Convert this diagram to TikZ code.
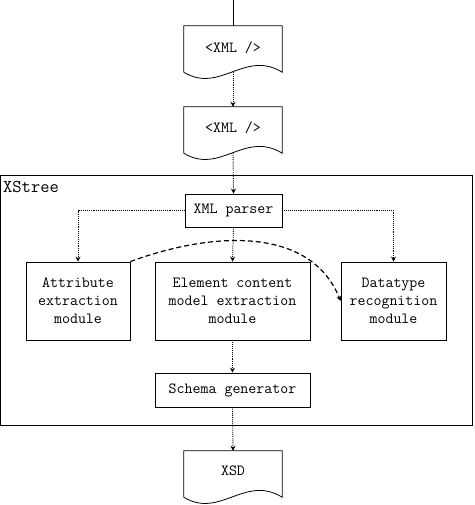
\documentclass[tikz,border=0pt]{standalone}
\usepackage{fontspec}
\usetikzlibrary{arrows.meta,calc}
\begin{document}
\begin{tikzpicture}[x=1pt,y=-1pt,
  every node/.style={font=\ttfamily\fontsize{15.5}{18}\selectfont, inner sep=0pt},
  box/.style={draw, line width=0.8pt, align=center},
  doc/.style={minimum width=98pt, minimum height=46pt},
  docline/.style={draw, line width=0.8pt},
  conn/.style={line width=0.9pt, densely dotted, -{Stealth[length=5pt,width=5pt]}},
  curvy/.style={line width=1.2pt, dash pattern=on 5pt off 3pt, -{Stealth[length=5pt,width=5pt]}}
]
\useasboundingbox (0,0) rectangle (474,505);

% frame
\draw[line width=0.8pt] (0.5,175) rectangle (472,425);
\node[anchor=west, font=\ttfamily\fontsize{18}{18}\selectfont] (title) at (3,187) {XStree};

% documents
\node[doc] (d1) at (233,49) {\raisebox{4pt}{<XML />}};
\node[doc] (d2) at (233,130) {\raisebox{6pt}{<XML />}};
\node[doc] (d3) at (233,474) {\raisebox{6pt}{XSD}};
\foreach \d in {d1,d2,d3}{
  \draw[docline] (\d.south west) -- (\d.north west) -- (\d.north east) -- (\d.south east)
    .. controls ($(\d.south west)+(61,-23)$) and ($(\d.south west)+(36,22)$) .. (\d.south west);
}
\coordinate (top) at (233,0);

% boxes
\node[box, minimum width=97pt, minimum height=33pt] (parser) at (233.5,210.5) {XML parser};
\node[box, minimum width=104pt, minimum height=78pt] (attr) at (78,301) {Attribute\\extraction\\module};
\node[box, minimum width=155pt, minimum height=78pt] (elem) at (232.5,301) {Element content\\model extraction\\module};
\node[box, minimum width=105pt, minimum height=78pt] (dtype) at (393.5,301) {Datatype\\recognition\\module};
\node[box, minimum width=155pt, minimum height=34pt] (schema) at (232.5,390) {Schema generator};

% connectors
\draw[line width=0.8pt] (top) -- (d1.north);
\draw[conn] (d1.south) -- (d2.north);
\draw[conn] (d2.south) -- (parser.north);
\draw[conn] (parser.west) -| (attr.north);
\draw[conn] (parser.east) -| (dtype.north);
\draw[conn] (parser.south) -- (elem.north);
\draw[conn] (elem.south) -- (schema.north);
\draw[conn] (schema.south) -- (d3.north);
\draw[curvy] (attr.north east) .. controls (210,232) and (310,225) .. (dtype.west);
\end{tikzpicture}
\end{document}
